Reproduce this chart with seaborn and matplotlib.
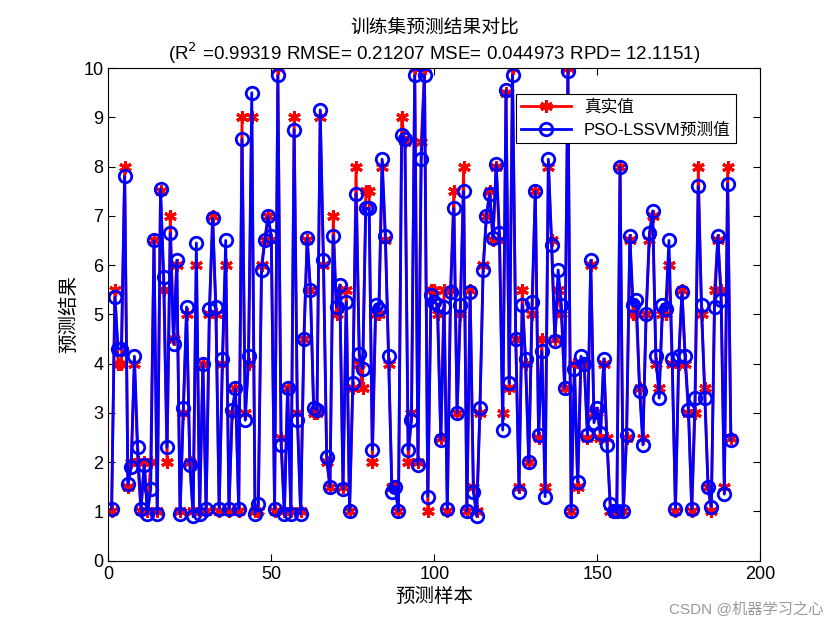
import numpy as np
import pandas as pd
import matplotlib
matplotlib.use("Agg")
import matplotlib.pyplot as plt
import seaborn as sns

plt.rcParams['font.family'] = ['Liberation Sans', 'Noto Sans CJK SC']
plt.rcParams['axes.unicode_minus'] = False

true_vals = [1, 5.5, 4, 4, 8, 1.5, 2, 4, 2, 1, 2, 1, 2, 6.5, 1, 7.5, 5.5, 2, 7, 4.5,
             6, 1, 3, 5, 2, 1, 6, 1, 4, 1, 5, 7, 5, 1, 4, 6, 1, 3, 3.5, 1,
             9, 3, 4, 9, 1, 1, 6, 6.5, 7, 6.5, 1, 10, 2.5, 1, 3.5, 1, 9, 3, 1, 4.5,
             6.5, 5.5, 3, 3, 9, 6, 2, 1.5, 7, 5, 5.5, 1.5, 5.5, 1, 3.5, 8, 4, 3.5, 7.5, 7.5,
             2, 5, 5, 8, 6.5, 4, 1.5, 1.5, 1, 9, 8.5, 2, 3, 10, 2, 8.5, 10, 1, 5.5, 5.5,
             5, 2.5, 5.5, 1, 5.5, 7.5, 3, 5, 8, 1, 5.5, 1.5, 1, 3, 6, 7, 7.5, 6.5, 8, 6.5,
             3, 9.5, 3.5, 10, 4.5, 1.5, 5.5, 4, 2, 5, 7.5, 2.5, 4.5, 1.5, 8, 6.5, 4.5, 5.5, 5, 3.5,
             10, 1, 4, 1.5, 4, 4, 2.5, 6, 3, 3, 2.5, 4, 2.5, 1, 1, 1, 8, 1, 2.5, 6.5,
             5, 5, 3.5, 2.5, 5, 6.5, 7, 4, 3.5, 5, 5, 6, 4, 1, 4, 5.5, 4, 3, 1, 3,
             8, 5, 3.5, 1.5, 1, 5.5, 6.5, 5.5, 1.5, 8, 2.5]
pred_vals = [1.05, 5.35, 4.3, 4.3, 7.8, 1.55, 1.9, 4.15, 2.3, 1.05, 1.95, 0.95, 1.45, 6.5, 0.95, 7.55, 5.75, 2.3, 6.65, 4.4,
             6.1, 0.95, 3.1, 5.15, 1.95, 0.9, 6.45, 0.95, 4.0, 1.05, 5.1, 6.95, 5.15, 1.05, 4.1, 6.5, 1.05, 3.05, 3.5, 1.05,
             8.55, 2.85, 4.15, 9.5, 0.95, 1.15, 5.9, 6.5, 7.0, 6.6, 1.05, 9.85, 2.35, 0.95, 3.5, 0.95, 8.75, 2.85, 0.95, 4.5,
             6.55, 5.5, 3.1, 3.05, 9.15, 6.1, 2.1, 1.5, 6.6, 5.15, 5.6, 1.45, 5.25, 1.0, 3.6, 7.45, 4.2, 3.9, 7.15, 7.15,
             2.25, 5.2, 5.1, 8.15, 6.6, 4.15, 1.4, 1.5, 1.0, 8.65, 8.55, 2.25, 2.85, 9.85, 1.95, 8.15, 9.85, 1.3, 5.4, 5.25,
             5.2, 2.45, 5.15, 1.05, 5.45, 7.15, 3.0, 5.2, 7.5, 1.0, 5.45, 1.4, 0.9, 3.1, 5.9, 7.0, 7.45, 6.55, 8.05, 6.65,
             2.65, 9.55, 3.6, 9.85, 4.5, 1.4, 5.2, 4.1, 2.0, 5.25, 7.5, 2.55, 4.25, 1.3, 8.15, 6.4, 4.45, 5.9, 5.2, 3.5,
             9.95, 1.0, 3.9, 1.6, 4.15, 4.0, 2.55, 6.1, 2.8, 3.1, 2.6, 4.1, 2.35, 1.15, 1.0, 1.0, 8.0, 1.0, 2.55, 6.6,
             5.2, 5.3, 3.45, 2.35, 5.0, 6.65, 7.1, 4.15, 3.3, 5.2, 5.1, 6.5, 4.1, 1.05, 4.15, 5.45, 4.15, 3.05, 1.05, 3.3,
             7.6, 5.2, 3.3, 1.5, 1.1, 5.15, 6.6, 5.3, 1.35, 7.65, 2.45]

samples = np.arange(1, len(true_vals) + 1)
df = pd.DataFrame({'sample': samples, 'true': true_vals, 'pred': pred_vals})

fig = plt.figure(figsize=(8.4, 6.3), dpi=100)
ax = fig.add_axes([0.129, 0.11, 0.776, 0.782])

# MATLAB-style asterisk marker
sns.lineplot(data=df, x='sample', y='true', ax=ax, color='red', linewidth=2,
             marker=(6, 2, 0), markersize=9, markeredgewidth=2.2, markeredgecolor='red', label='真实值')
sns.lineplot(data=df, x='sample', y='pred', ax=ax, color='blue', linewidth=2,
             marker='o', markersize=9, markerfacecolor='none', markeredgecolor='blue',
             markeredgewidth=2, label='PSO-LSSVM预测值')

ax.set_xlim(0, 200)
ax.set_ylim(0, 10)
ax.set_xticks([0, 50, 100, 150, 200])
ax.set_yticks(range(0, 11))
ax.tick_params(direction='in', labelsize=13, top=True, right=True, length=5)
for sp in ax.spines.values():
    sp.set_linewidth(0.8)
ax.set_xlabel('预测样本', fontsize=14)
ax.set_ylabel('预测结果', fontsize=14)
ax.set_title('训练集预测结果对比\n(R$^2$ =0.99319 RMSE= 0.21207 MSE= 0.044973 RPD= 12.1151)',
             fontsize=13.5, pad=6)

leg = ax.legend(loc='upper right', bbox_to_anchor=(0.975, 0.965), fontsize=12,
                frameon=True, fancybox=False, edgecolor='black', framealpha=1,
                borderpad=0.3, handlelength=3)
leg.get_frame().set_linewidth(0.8)

fig.text(0.98, 0.02, 'CSDN @机器学习之心', ha='right', va='bottom', fontsize=11, color='#999999')

fig.savefig('out.png', dpi=100)
